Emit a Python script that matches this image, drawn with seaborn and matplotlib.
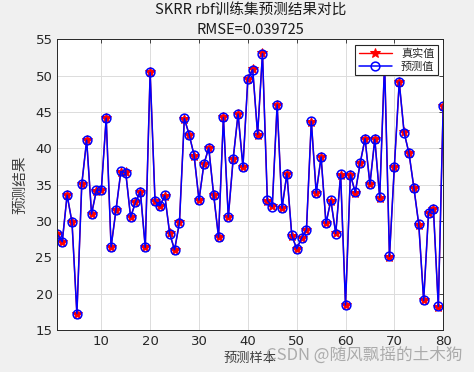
import numpy as np
import pandas as pd
import seaborn as sns
import matplotlib.pyplot as plt

# sample index and values
samples = list(range(1, 81))
true_vals = [28.2, 27.1, 33.6, 29.8, 17.2, 35.1, 41.1, 31.0, 34.2, 34.3,
             44.2, 26.4, 31.5, 36.8, 36.7, 30.5, 32.6, 34.0, 26.4, 50.5,
             32.7, 32.1, 33.5, 28.3, 26.0, 29.8, 44.1, 41.9, 39.0, 32.9,
             37.8, 40.1, 33.6, 27.8, 44.3, 30.5, 38.6, 44.7, 37.5, 49.5,
             50.9, 41.9, 53.1, 32.8, 32.0, 46.0, 31.8, 36.5, 28.0, 26.2,
             27.6, 28.8, 43.7, 33.9, 38.8, 29.7, 32.8, 28.3, 36.4, 18.4,
             36.4, 33.9, 38.0, 41.3, 35.1, 41.3, 33.2, 51.8, 25.1, 37.5,
             49.1, 42.2, 39.3, 34.6, 29.5, 19.1, 31.1, 31.7, 18.2, 45.9]
pred_vals = [28.17, 27.14, 33.57, 29.83, 17.24, 35.07, 41.13, 30.96, 34.23, 34.27,
             44.16, 26.44, 31.47, 36.83, 36.66, 30.54, 32.57, 34.04, 26.37, 50.45,
             32.74, 32.07, 33.53, 28.26, 26.04, 29.77, 44.13, 41.86, 39.04, 32.87,
             37.83, 40.06, 33.64, 27.77, 44.26, 30.53, 38.57, 44.74, 37.46, 49.54,
             50.86, 41.94, 53.05, 32.83, 31.97, 46.04, 31.77, 36.53, 28.04, 26.17,
             27.64, 28.77, 43.74, 33.86, 38.83, 29.67, 32.84, 28.27, 36.43, 18.44,
             36.37, 33.94, 37.96, 41.34, 35.07, 41.26, 33.24, 51.76, 25.14, 37.47,
             49.14, 42.16, 39.34, 34.56, 29.54, 19.06, 31.14, 31.66, 18.24, 45.86]
x_ticks = [10, 20, 30, 40, 50, 60, 70, 80]
y_ticks = [15, 20, 25, 30, 35, 40, 45, 50, 55]

sns.set_style('whitegrid')
plt.rcParams['font.family'] = ['DejaVu Sans', 'Noto Sans CJK SC']
cjk = ['Noto Sans CJK SC', 'DejaVu Sans']

df = pd.DataFrame({'sample': samples, 'true': true_vals, 'pred': pred_vals})

fig = plt.figure(figsize=(4.74, 3.72), dpi=100, facecolor='#f0f0f0')
ax = fig.add_axes([0.121, 0.113, 0.814, 0.781])
ax.set_facecolor('white')

sns.lineplot(data=df, x='sample', y='true', ax=ax, color='#ff0000', lw=1.0,
             marker='*', markersize=7, markeredgecolor='#ff0000',
             markerfacecolor='#ff0000', label='真实值')
sns.lineplot(data=df, x='sample', y='pred', ax=ax, color='#0000ff', lw=1.1,
             marker='o', markersize=6.3, markeredgecolor='#0000ff',
             markerfacecolor='none', markeredgewidth=1.1, label='预测值')

ax.set_xlim(1, 80)
ax.set_ylim(15, 55)
ax.set_xticks(x_ticks)
ax.set_yticks(y_ticks)
ax.tick_params(direction='in', top=True, right=True, length=3,
               labelsize=9.5, colors='#262626', width=0.6)
ax.grid(True, color='#dcdcdc', lw=0.7)
for s in ax.spines.values():
    s.set_color('#262626')
    s.set_linewidth(0.7)

ax.set_xlabel('预测样本', family=cjk, fontsize=9.5, color='#404040', labelpad=3)
ax.set_ylabel('预测结果', family=cjk, fontsize=10.5, color='#404040', labelpad=6)
ax.set_title('SKRR rbf训练集预测结果对比\nRMSE=0.039725', family=cjk,
             fontsize=10.5, color='#1a1a1a', pad=4, linespacing=1.45)

leg = ax.legend(loc='upper right', prop={'family': cjk, 'size': 8},
                frameon=True, fancybox=False, edgecolor='#262626',
                framealpha=1, borderpad=0.3, handlelength=3, labelspacing=0.3,
                borderaxespad=0.5)
leg.get_frame().set_linewidth(0.8)

fig.text(0.975, 0.045, 'CSDN @随风飘摇的土木狗', family=cjk, fontsize=12,
         color='#9a9a9a', alpha=0.8, ha='right', va='center')

fig.savefig('out.png', dpi=100, facecolor=fig.get_facecolor())
